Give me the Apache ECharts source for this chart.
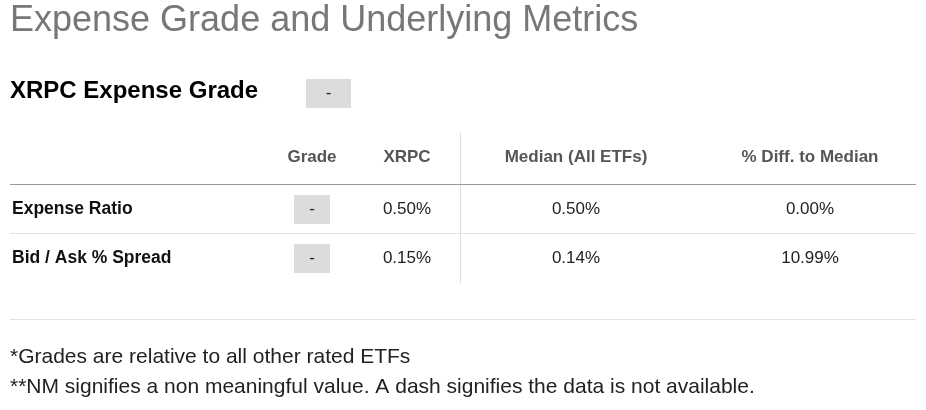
<!DOCTYPE html>
<html>
<head>
<meta charset="utf-8">
<script src="https://cdn.jsdelivr.net/npm/echarts@6/dist/echarts.min.js"></script>
<style>html,body{margin:0;padding:0;background:#fff}#chart{width:926px;height:410px}</style>
</head>
<body>
<div id="chart"></div>
<script>
var title = 'Expense Grade and Underlying Metrics';
var gradeTitle = 'XRPC Expense Grade';
var overallGrade = '-';
var headers = ['Grade', 'XRPC', 'Median (All ETFs)', '% Diff. to Median'];
var metrics = ['Expense Ratio', 'Bid / Ask % Spread'];
var grades = ['-', '-'];
var fundValues = ['0.50%', '0.15%'];
var medianValues = ['0.50%', '0.14%'];
var diffValues = ['0.00%', '10.99%'];
var notes = ['*Grades are relative to all other rated ETFs',
  '**NM signifies a non meaningful value. A dash signifies the data is not available.'];

var font = 'Arial, "Liberation Sans", sans-serif';
var colX = [312, 407, 576, 810];
var rowY = [209, 258];

function text(x, y, s, size, color, weight, align) {
  return { type: 'text', x: x, y: y, style: { text: s, fontSize: size, fill: color,
    fontWeight: weight || 'normal', fontFamily: font, align: align || 'left', verticalAlign: 'middle' } };
}
function line(x1, y1, x2, y2, color) {
  return { type: 'line', shape: { x1: x1, y1: y1, x2: x2, y2: y2 }, style: { stroke: color, lineWidth: 1 } };
}
function box(x, y, w, h, s) {
  return [{ type: 'rect', shape: { x: x, y: y, width: w, height: h }, style: { fill: '#dcdcdc' } },
    text(x + w / 2, y + h / 2, s, 17, '#222', 'normal', 'center')];
}

var els = [];
els.push(text(10, 21, title, 36, '#777'));
els.push(text(10, 91, gradeTitle, 24, '#000', 'bold'));
els = els.concat(box(306, 79, 45, 29, overallGrade));
headers.forEach(function (h, i) { els.push(text(colX[i], 157, h, 17, '#555', 'bold', 'center')); });
els.push(line(460.5, 133, 460.5, 283, '#ddd'));
els.push(line(10, 184.5, 916, 184.5, '#999'));
els.push(line(10, 233.5, 916, 233.5, '#e2e2e2'));
els.push(line(10, 319.5, 916, 319.5, '#e2e2e2'));
metrics.forEach(function (m, i) {
  var y = rowY[i];
  els.push(text(12, y, m, 17.5, '#111', 'bold'));
  els = els.concat(box(294, y - 14, 36, 29, grades[i]));
  els.push(text(colX[1], y, fundValues[i], 17, '#222', 'normal', 'center'));
  els.push(text(colX[2], y, medianValues[i], 17, '#222', 'normal', 'center'));
  els.push(text(colX[3], y, diffValues[i], 17, '#222', 'normal', 'center'));
});
els.push(text(10, 357, notes[0], 21, '#222'));
els.push(text(10, 387, notes[1], 21, '#222'));

var chart = echarts.init(document.getElementById('chart'));
chart.setOption({ animation: false, graphic: { elements: els } });
</script>
</body>
</html>
